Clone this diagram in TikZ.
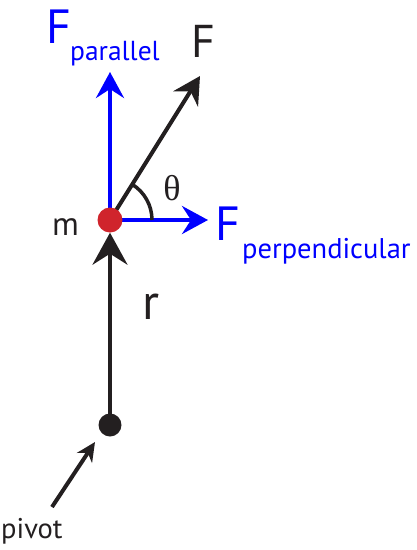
\documentclass[tikz,border=0pt]{standalone}
\usepackage{fontspec}
\setmainfont{PT Sans}
\newfontfamily\thetafont{Liberation Serif}
\usetikzlibrary{arrows.meta}
\definecolor{fblue}{RGB}{0,0,255}
\definecolor{dotred}{RGB}{208,36,44}
\definecolor{ink}{RGB}{35,31,32}
\begin{document}
\begin{tikzpicture}[x=1pt,y=-1pt,
  bluevec/.style={draw=fblue, line width=4pt, -{Stealth[length=26pt,width=28pt,inset=9pt]}},
  blackvec/.style={draw=ink, line width=4pt, -{Stealth[length=27pt,width=29pt,inset=9pt]}},
  rvec/.style={draw=ink, line width=4pt, -{Stealth[length=32pt,width=35pt,inset=11pt]}},
  smallvec/.style={draw=ink, line width=4pt, -{Stealth[length=19pt,width=18pt,inset=6pt]}},
  dot/.style={circle, inner sep=0pt, minimum size=#1},
  lbl/.style={inner sep=0pt, anchor=base west},
  ]
\useasboundingbox (0,0) rectangle (417,550);
% endpoints
\coordinate (mc) at (110,220);
\coordinate (partip) at (110,72);
\coordinate (perptip) at (208,220);
\coordinate (ftip) at (200,76);
\coordinate (pivtail) at (52,507);
\coordinate (pivtip) at (95,442);
% pivot dot
\node[dot=23pt, fill=ink] (pivot) at (110,425) {};
% force vectors
\draw[bluevec] (mc) -- (partip);
\draw[bluevec] (mc) -- (perptip);
\draw[blackvec] (mc) -- (ftip);
% angle arc
\draw[ink, line width=3.5pt] (mc) ++(42,0) arc[start angle=0, end angle=-58, radius=42];
% mass
\node[dot=25pt, fill=dotred] (m) at (mc) {};
% position vector r
\draw[rvec] (pivot.center) -- (m.south);
% pivot pointer
\draw[smallvec] (pivtail) -- (pivtip);
% labels
\node[lbl, text=fblue, font=\fontsize{48}{48}\selectfont] (fpar) at (46,43) {F};
\node[lbl, text=fblue, font=\fontsize{27.5}{27.5}\selectfont] (fparsub) at (70,60) {parallel};
\node[lbl, text=ink, font=\fontsize{46}{46}\selectfont] (fF) at (191,57) {F};
\node[lbl, text=fblue, font=\fontsize{48}{48}\selectfont] (fperp) at (215,240) {F};
\node[lbl, text=fblue, font=\fontsize{28.5}{28.5}\selectfont] (fperpsub) at (242,258) {perpendicular};
\node[text=ink, inner sep=0pt, font=\thetafont\fontsize{36}{36}\selectfont] (theta) at (172,188) {θ};
\node[lbl, text=ink, font=\fontsize{33}{33}\selectfont] (mlbl) at (52,235) {m};
\node[lbl, text=ink, font=\fontsize{50}{50}\selectfont] (rlbl) at (142,319) {r};
\node[lbl, text=ink, font=\fontsize{28.5}{28.5}\selectfont] (pivlbl) at (1,538) {pivot};
\end{tikzpicture}
\end{document}
